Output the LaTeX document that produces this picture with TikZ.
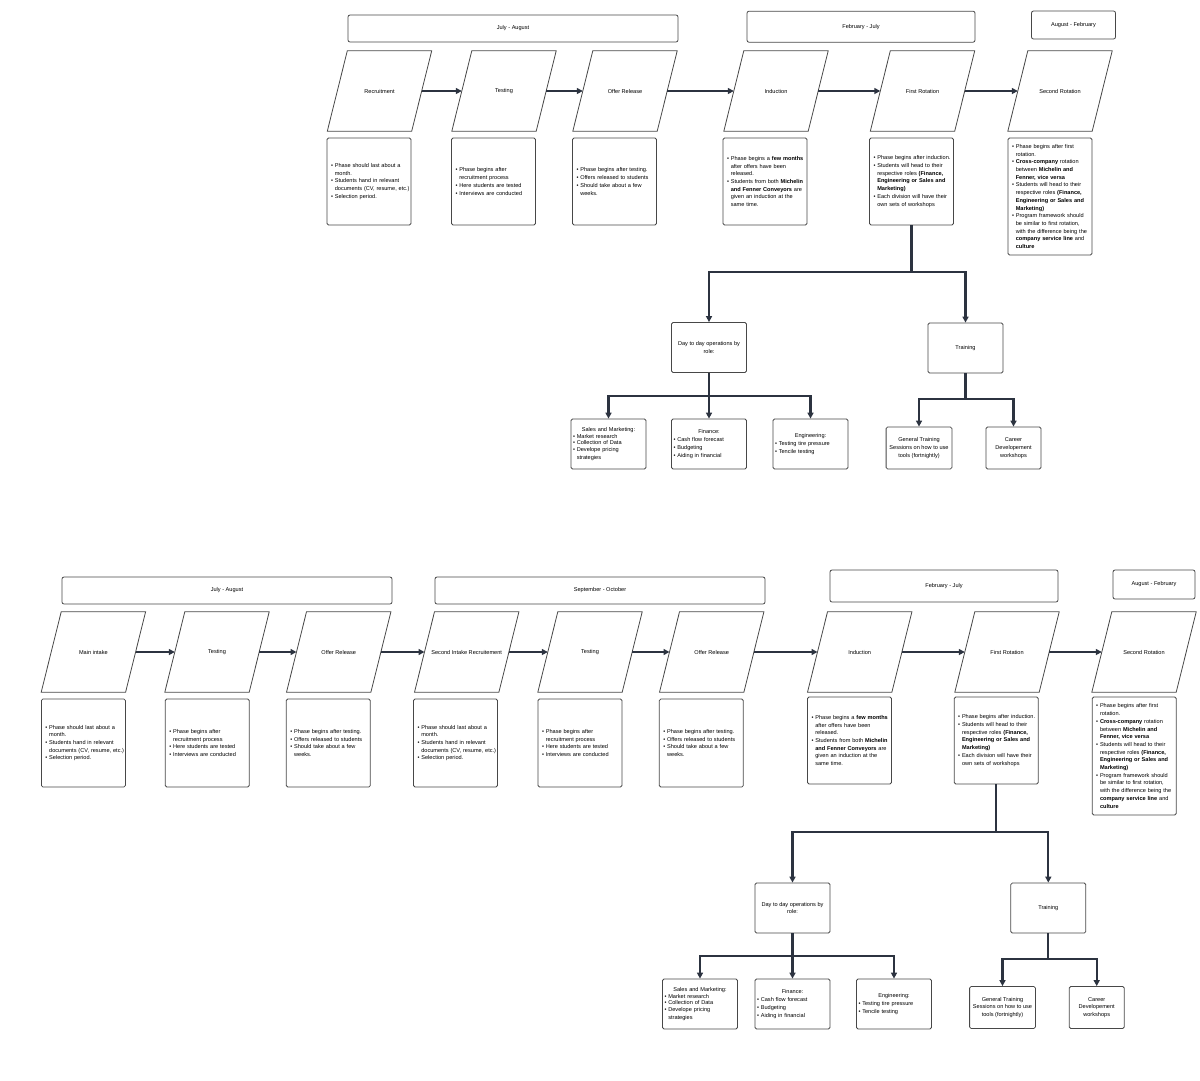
\documentclass[tikz,border=0pt]{standalone}
\usepackage{fontspec}
\setmainfont{Liberation Sans}
\usepackage{xcolor}
\usetikzlibrary{arrows.meta}

\definecolor{boxline}{RGB}{72,72,72}
\definecolor{arrowdark}{RGB}{44,51,64}

\newcommand\bitem[1]{\mbox{\makebox[3.8pt][l]{\textbullet}#1}}
\newcommand\bcont[1]{\mbox{\hspace*{3.8pt}#1}}

\newcommand\txtrecruit{%
  \bitem{Phase should last about a}\\
  \bcont{month.}\\
  \bitem{Students hand in relevant}\\
  \bcont{documents (CV, resume, etc.)}\\
  \bitem{Selection period.}}
\newcommand\txttesting{%
  \bitem{Phase begins after}\\
  \bcont{recruitment process}\\
  \bitem{Here students are tested}\\
  \bitem{Interviews are conducted}}
\newcommand\txtoffer{%
  \bitem{Phase begins after testing.}\\
  \bitem{Offers released to students}\\
  \bitem{Should take about a few}\\
  \bcont{weeks.}}
\newcommand\txtinduction{%
  \bitem{Phase begins a \textbf{few months}}\\
  \bcont{after offers have been}\\
  \bcont{released.}\\
  \bitem{Students from both \textbf{Michelin}}\\
  \bcont{\textbf{and Fenner Conveyors} are}\\
  \bcont{given an induction at the}\\
  \bcont{same time.}}
\newcommand\txtfirst{%
  \bitem{Phase begins after induction.}\\
  \bitem{Students will head to their}\\
  \bcont{respective roles \textbf{(Finance,}}\\
  \bcont{\textbf{Engineering or Sales and}}\\
  \bcont{\textbf{Marketing)}}\\
  \bitem{Each division will have their}\\
  \bcont{own sets of workshops}}
\newcommand\txtsecond{%
  \bitem{Phase begins after first}\\
  \bcont{rotation.}\\
  \bitem{\textbf{Cross-company} rotation}\\
  \bcont{between \textbf{Michelin and}}\\
  \bcont{\textbf{Fenner, vice versa}}\\
  \bitem{Students will head to their}\\
  \bcont{respective roles \textbf{(Finance,}}\\
  \bcont{\textbf{Engineering or Sales and}}\\
  \bcont{\textbf{Marketing)}}\\
  \bitem{Program framework should}\\
  \bcont{be similar to first rotation,}\\
  \bcont{with the difference being the}\\
  \bcont{\textbf{company service line} and}\\
  \bcont{\textbf{culture}}}
\newcommand\txtsales{%
  \fontsize{5.6}{6.6}\selectfont
  \makebox[\linewidth]{Sales and Marketing:}\\
  \bitem{Market research}\\
  \bitem{Collection of Data}\\
  \bitem{Develope pricing}\\
  \bcont{strategies}}
\newcommand\txtfinance{%
  \makebox[\linewidth]{Finance:}\\
  \bitem{Cash flow forecast}\\
  \bitem{Budgeting}\\
  \bitem{Aiding in financial}}
\newcommand\txteng{%
  \makebox[\linewidth]{Engineering:}\\
  \bitem{Testing tire pressure}\\
  \bitem{Tencile testing}}

\begin{document}
\begin{tikzpicture}[x=1pt, y=-1pt,
  every node/.style={font=\fontsize{5.6}{7.7}\selectfont},
  hdr/.style={rectangle, rounded corners=2pt, draw=boxline, line width=0.8pt},
  phase/.style={rectangle, minimum width=84pt, minimum height=80pt, inner sep=0pt,
    append after command={\pgfextra{
      \draw[boxline, line width=0.8pt]
        ([xshift=-10pt]\tikzlastnode.south west) -- ([xshift=-10pt]\tikzlastnode.south east)
        -- ([xshift=10pt]\tikzlastnode.north east) -- ([xshift=10pt]\tikzlastnode.north west)
        -- cycle;}}},
  desc/.style={rectangle, rounded corners=1.5pt, draw=boxline, line width=0.8pt,
               text width=76pt, align=left, inner xsep=4pt, inner ysep=0pt},
  sub/.style={rectangle, rounded corners=1.5pt, draw=boxline, line width=0.8pt,
              align=center, minimum width=75pt, minimum height=50pt},
  role/.style={sub, text width=71pt, align=left, inner xsep=2pt},
  conn/.style={line width=2.1pt, arrowdark, -{Triangle[length=6pt,width=6pt]}}
]
  \useasboundingbox (0,0) rectangle (1200,1080);

  % first programme
  \node[hdr, minimum width=330pt, minimum height=27pt] (h1) at (513, 28.5) {July - August};
  \node[hdr, minimum width=228pt, minimum height=31pt] (h2) at (861, 26.7) {February - July};
  \node[hdr, minimum width=84pt,  minimum height=28pt] (h3) at (1073.5, 25) {August - February};

  \node[phase] (rec) at (379.5, 91) {Recruitment};
  \node[phase] (tst) at (504, 91)   {Testing};
  \node[phase] (off) at (625, 91)   {Offer Release};
  \node[phase] (ind) at (776, 91)   {Induction};
  \node[phase] (fr)  at (922.5, 91) {First Rotation};
  \node[phase] (sr)  at (1060, 91)  {Second Rotation};

  \node[desc, minimum height=87pt]  (recd) at (369, 181.5)  {\txtrecruit};
  \node[desc, minimum height=87pt]  (tstd) at (493.5, 181.5) {\txttesting};
  \node[desc, minimum height=87pt]  (offd) at (614.5, 181.5) {\txtoffer};
  \node[desc, minimum height=87pt]  (indd) at (765, 181.5)   {\txtinduction};
  \node[desc, minimum height=87pt]  (frd)  at (911.5, 181.5) {\txtfirst};
  \node[desc, minimum height=117pt] (srd)  at (1050, 196.5)  {\txtsecond};

  \node[sub] (dtd) at (709, 347.5)   {Day to day operations by\\role:};
  \node[sub] (trn) at (965.5, 348)   {Training};
  \node[role] (sales) at (608.5, 444) {\txtsales};
  \node[role] (fin)   at (709, 444)   {\txtfinance};
  \node[role] (eng)   at (810.5, 444) {\txteng};
  \node[sub, minimum width=64pt, minimum height=42pt] (gen) at (919, 448)    {General Training\\Sessions on how to use\\tools (fortnightly)};
  \node[sub, minimum width=55pt, minimum height=42pt] (car) at (1013.5, 448) {Career\\Developement\\workshops};

  \coordinate (split)  at (911.5, 272);
  \coordinate (dsplit) at (709, 396);
  \coordinate (tsplit) at (965.5, 399);

  \draw[conn] (rec) -- (tst);
  \draw[conn] (tst) -- (off);
  \draw[conn] (off) -- (ind);
  \draw[conn] (ind) -- (fr);
  \draw[conn] (fr) -- (sr);

  \draw[conn] (frd.south) -- (split) -| (dtd.north);
  \draw[conn] (split) -| (trn.north);
  \draw[conn] (dtd.south) -- (dsplit) -| (sales.north);
  \draw[conn] (dsplit) -- (fin.north);
  \draw[conn] (dsplit) -| (eng.north);
  \draw[conn] (trn.south) -- (tsplit) -| (gen.north);
  \draw[conn] (tsplit) -| (car.north);

  % second programme, two intakes
  \node[hdr, minimum width=330pt, minimum height=27pt] (b1) at (227, 590.5) {July - August};
  \node[hdr, minimum width=330pt, minimum height=27pt] (b2) at (600, 590.5) {September - October};
  \node[hdr, minimum width=228pt, minimum height=32pt] (b3) at (944, 586)   {February - July};
  \node[hdr, minimum width=82pt,  minimum height=29pt] (b4) at (1154, 584.5) {August - February};

  \node[phase] (mi)   at (93.4, 652)  {Main intake};
  \node[phase] (t1)   at (217, 652)   {Testing};
  \node[phase] (o1)   at (338.7, 652) {Offer Release};
  \node[phase] (si)   at (466.7, 652) {Second Intake Recruitement};
  \node[phase] (t2)   at (590, 652)   {Testing};
  \node[phase] (o2)   at (711.7, 652) {Offer Release};
  \node[phase] (bind) at (859.7, 652) {Induction};
  \node[phase] (bfr)  at (1007, 652)  {First Rotation};
  \node[phase] (bsr)  at (1144, 652)  {Second Rotation};

  \node[desc, minimum height=88pt]  (mid)   at (83.4, 743)    {\txtrecruit};
  \node[desc, minimum height=88pt]  (t1d)   at (207.3, 743)   {\txttesting};
  \node[desc, minimum height=88pt]  (o1d)   at (328.3, 743)   {\txtoffer};
  \node[desc, minimum height=88pt]  (sid)   at (455.5, 743)   {\txtrecruit};
  \node[desc, minimum height=88pt]  (t2d)   at (580, 743)     {\txttesting};
  \node[desc, minimum height=88pt]  (o2d)   at (701.3, 743)   {\txtoffer};
  \node[desc, minimum height=87pt]  (bindd) at (849.5, 740.5) {\txtinduction};
  \node[desc, minimum height=87pt]  (bfrd)  at (996.2, 740.5) {\txtfirst};
  \node[desc, minimum height=118pt] (bsrd)  at (1134.2, 756)  {\txtsecond};

  \node[sub] (bdtd) at (792.5, 908)  {Day to day operations by\\role:};
  \node[sub] (btrn) at (1048.3, 908) {Training};
  \node[role] (bsales) at (700, 1004)   {\txtsales};
  \node[role] (bfin)   at (792.5, 1004) {\txtfinance};
  \node[role] (beng)   at (894, 1004)   {\txteng};
  \node[sub, minimum width=64pt, minimum height=42pt] (bgen) at (1002.5, 1007.5) {General Training\\Sessions on how to use\\tools (fortnightly)};
  \node[sub, minimum width=55pt, minimum height=42pt] (bcar) at (1096.7, 1007.5) {Career\\Developement\\workshops};

  \coordinate (bsplit)  at (996.2, 832);
  \coordinate (bdsplit) at (792.5, 956);
  \coordinate (btsplit) at (1048.3, 959.3);

  \draw[conn] (mi) -- (t1);
  \draw[conn] (t1) -- (o1);
  \draw[conn] (o1) -- (si);
  \draw[conn] (si) -- (t2);
  \draw[conn] (t2) -- (o2);
  \draw[conn] (o2) -- (bind);
  \draw[conn] (bind) -- (bfr);
  \draw[conn] (bfr) -- (bsr);

  \draw[conn] (bfrd.south) -- (bsplit) -| (bdtd.north);
  \draw[conn] (bsplit) -| (btrn.north);
  \draw[conn] (bdtd.south) -- (bdsplit) -| (bsales.north);
  \draw[conn] (bdsplit) -- (bfin.north);
  \draw[conn] (bdsplit) -| (beng.north);
  \draw[conn] (btrn.south) -- (btsplit) -| (bgen.north);
  \draw[conn] (btsplit) -| (bcar.north);
\end{tikzpicture}
\end{document}
